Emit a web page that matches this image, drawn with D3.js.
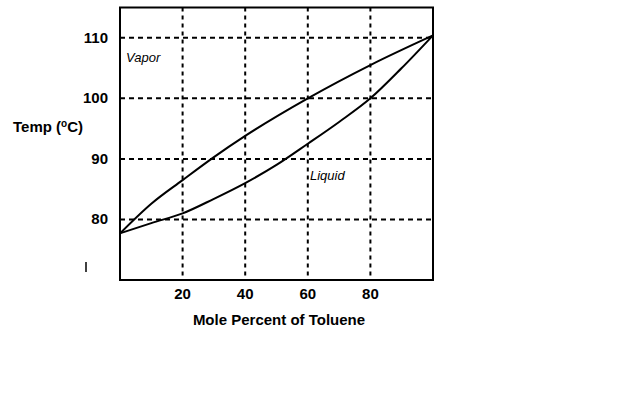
<!DOCTYPE html><html><head><script src="https://cdn.jsdelivr.net/npm/d3@7"></script>
<style>body{margin:0;background:#fff}text{font-family:"Liberation Sans",Arial,sans-serif}</style></head><body>
<svg id="c" width="640" height="400"></svg>
<script>
const xTicks=[20,40,60,80];
const yTicks=[80,90,100,110];
const vaporX=[0,10,20,30,40,60,80,100];
const vaporY=[77.7,82.6,86.5,90.3,93.8,100,105.5,110.4];
const liquidX=[0,10,20,30,40,50,60,70,80,90,100];
const liquidY=[77.7,79.4,81,83.4,86,89,92.5,96.1,100,105,110.4];
const svg=d3.select("#c");
const x=d3.scaleLinear().domain([0,100]).range([120,433]);
const y=d3.scaleLinear().domain([70,115]).range([280,7.5]);
const g=svg.append("g");
xTicks.forEach(t=>g.append("line").attr("x1",x(t)).attr("x2",x(t)).attr("y1",y(115)).attr("y2",y(70)).attr("stroke","#000").attr("stroke-width",2).attr("stroke-dasharray","4,4"));
yTicks.forEach(t=>g.append("line").attr("x1",x(0)).attr("x2",x(100)).attr("y1",y(t)).attr("y2",y(t)).attr("stroke","#000").attr("stroke-width",2).attr("stroke-dasharray","5,4"));
g.append("rect").attr("x",x(0)).attr("y",y(115)).attr("width",x(100)-x(0)).attr("height",y(70)-y(115)).attr("fill","none").attr("stroke","#000").attr("stroke-width",2);
const line=d3.line().curve(d3.curveMonotoneX);
svg.append("path").attr("d",line(vaporX.map((v,i)=>[x(v),y(vaporY[i])]))).attr("fill","none").attr("stroke","#000").attr("stroke-width",2);
svg.append("path").attr("d",line(liquidX.map((v,i)=>[x(v),y(liquidY[i])]))).attr("fill","none").attr("stroke","#000").attr("stroke-width",2);
xTicks.forEach(t=>svg.append("text").attr("x",x(t)).attr("y",299).attr("text-anchor","middle").attr("font-size",15).attr("font-weight","bold").text(t));
yTicks.forEach(t=>svg.append("text").attr("x",108).attr("y",y(t)+5).attr("text-anchor","end").attr("font-size",15).attr("font-weight","bold").text(t));
svg.append("text").attr("x",279).attr("y",325).attr("text-anchor","middle").attr("font-size",15).attr("font-weight","bold").text("Mole Percent of Toluene");
const yl=svg.append("text").attr("x",13).attr("y",132).attr("font-size",15).attr("font-weight","bold");
yl.append("tspan").text("Temp (");
yl.append("tspan").attr("dy",-5).attr("font-size",10).text("o");
yl.append("tspan").attr("dy",5).text("C)");
svg.append("line").attr("x1",86).attr("x2",86).attr("y1",262).attr("y2",272).attr("stroke","#000").attr("stroke-width",1.5);
svg.append("text").attr("x",126).attr("y",62).attr("font-size",13).attr("font-style","italic").attr("font-family","DejaVu Serif").text("Vapor");
svg.append("text").attr("x",310).attr("y",180).attr("font-size",13).attr("font-style","italic").attr("font-family","DejaVu Serif").text("Liquid");
</script></body></html>
